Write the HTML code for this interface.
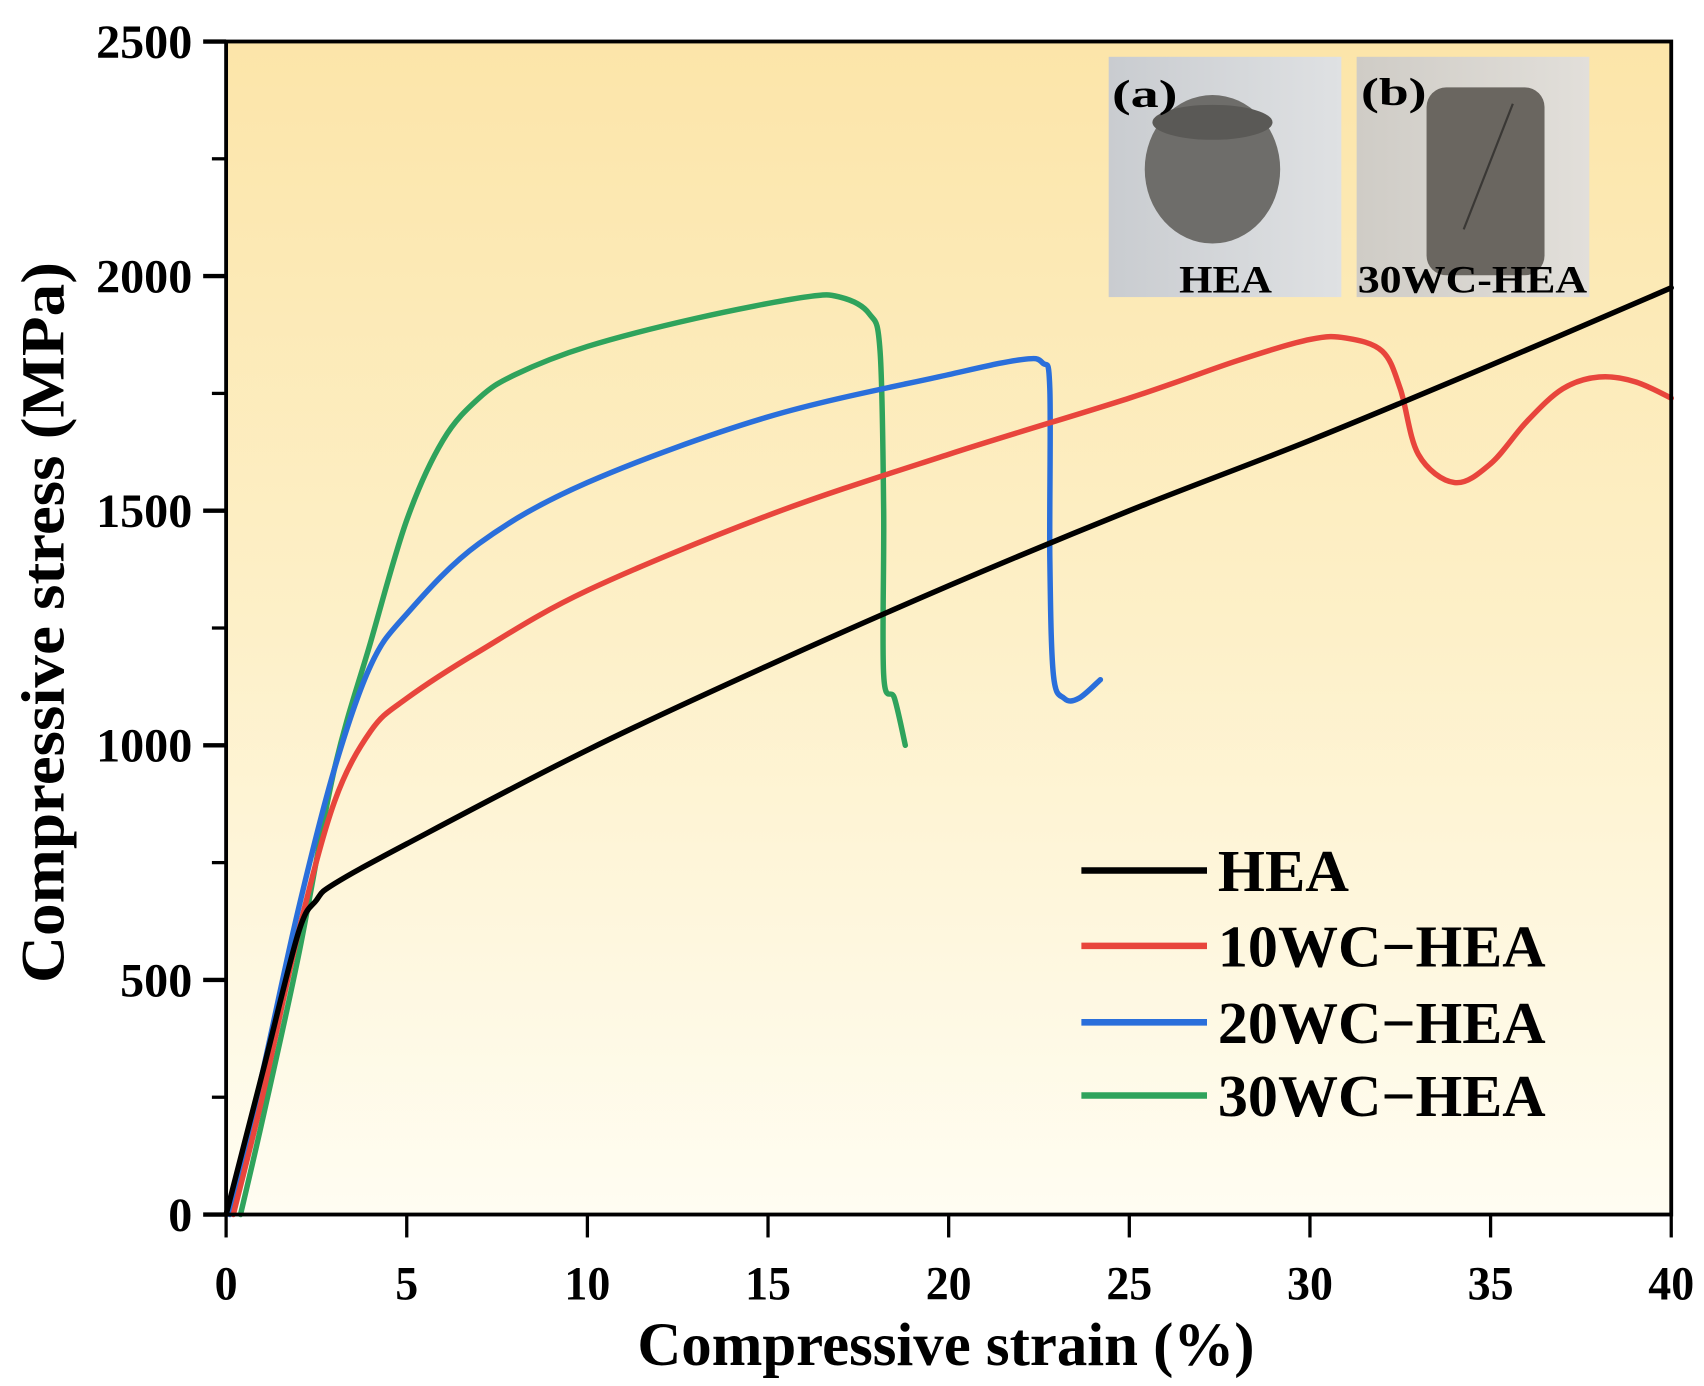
<!DOCTYPE html>
<html><head><meta charset="utf-8">
<style>html,body{margin:0;padding:0;background:#fff}svg{display:block}</style>
</head><body>
<svg id="s" width="1704" height="1386" viewBox="0 0 1560 1269" preserveAspectRatio="none" xmlns="http://www.w3.org/2000/svg" font-family="Liberation Serif, serif" font-weight="bold">
<defs>
<linearGradient id="bg" x1="0" y1="0" x2="0" y2="1">
<stop offset="0" stop-color="#fce5a9"/><stop offset="0.5" stop-color="#fdf0c8"/><stop offset="1" stop-color="#fffdf2"/>
</linearGradient>
<linearGradient id="pa" x1="0" y1="0" x2="1" y2="0"><stop offset="0" stop-color="#c9ccd0"/><stop offset="1" stop-color="#dfe1e3"/></linearGradient>
<linearGradient id="pb" x1="0" y1="0" x2="1" y2="0"><stop offset="0" stop-color="#cfccc6"/><stop offset="1" stop-color="#e2dfda"/></linearGradient>
</defs>
<rect x="207" y="38" width="1323" height="1074" fill="url(#bg)"/>
<g id="ticks" stroke="#000" stroke-width="3"></g>
<g id="curves" fill="none" stroke-width="5" stroke-linejoin="round" stroke-linecap="round"></g>
<!-- insets -->
<rect x="1015" y="52" width="213" height="220" fill="url(#pa)"/>
<ellipse cx="1110" cy="155" rx="62" ry="68" fill="#6e6d6a"/>
<ellipse cx="1110" cy="112" rx="55" ry="16" fill="#5a5956"/>
<text x="1018" y="98" font-size="36" textLength="60" lengthAdjust="spacingAndGlyphs">(a)</text>
<text x="1122" y="268" font-size="36" text-anchor="middle" textLength="85" lengthAdjust="spacingAndGlyphs">HEA</text>
<rect x="1242" y="52" width="213" height="220" fill="url(#pb)"/>
<rect x="1306" y="80" width="108" height="172" rx="18" fill="#6a6660"/>
<path d="M1385 95 L1340 210" stroke="#3a3835" stroke-width="2"/>
<text x="1246" y="96" font-size="36" textLength="60" lengthAdjust="spacingAndGlyphs">(b)</text>
<text x="1348" y="268" font-size="36" text-anchor="middle" textLength="210" lengthAdjust="spacingAndGlyphs">30WC-HEA</text>
<rect x="207" y="38" width="1323" height="1074" fill="none" stroke="#000" stroke-width="3.5"/>
<g font-size="44" text-anchor="end" id="yl"></g>
<g font-size="44" text-anchor="middle" id="xl"></g>
<text x="866" y="1250" font-size="56" text-anchor="middle" textLength="565" lengthAdjust="spacingAndGlyphs">Compressive strain (%)</text>
<text transform="translate(58,570) rotate(-90)" font-size="56" text-anchor="middle" textLength="660" lengthAdjust="spacingAndGlyphs">Compressive stress (MPa)</text>
<g stroke-width="6">
<line x1="990" y1="797" x2="1105" y2="797" stroke="#000"/>
<line x1="990" y1="866" x2="1105" y2="866" stroke="#e8453c"/>
<line x1="990" y1="936" x2="1105" y2="936" stroke="#2a6fdb"/>
<line x1="990" y1="1003" x2="1105" y2="1003" stroke="#2fa35c"/>
</g>
<g font-size="54">
<text x="1115" y="816" textLength="120" lengthAdjust="spacingAndGlyphs">HEA</text>
<text x="1115" y="885" textLength="300" lengthAdjust="spacingAndGlyphs">10WC−HEA</text>
<text x="1115" y="955" textLength="300" lengthAdjust="spacingAndGlyphs">20WC−HEA</text>
<text x="1115" y="1022" textLength="300" lengthAdjust="spacingAndGlyphs">30WC−HEA</text>
</g>
</svg>
<script>
const NS="http://www.w3.org/2000/svg";
const X=s=>207+s*33.075, Y=v=>1112-v*0.4296;
const t=document.getElementById('ticks'),yl=document.getElementById('yl'),xl=document.getElementById('xl');
function ln(g,a,b,c,d,w){const l=document.createElementNS(NS,'line');l.setAttribute('x1',a);l.setAttribute('y1',b);l.setAttribute('x2',c);l.setAttribute('y2',d);if(w)l.setAttribute('stroke-width',w);g.appendChild(l);}
function tx(g,x,y,s,L){const e=document.createElementNS(NS,'text');e.setAttribute('x',x);e.setAttribute('y',y);if(L){e.setAttribute('textLength',L);e.setAttribute('lengthAdjust','spacingAndGlyphs');}e.textContent=s;g.appendChild(e);}
for(let v=0;v<=2500;v+=250){const y=Y(v);if(v%500==0){ln(t,186,y,207,y,4);tx(yl,176,y+15,v,String(v).length*22);}else ln(t,194,y,207,y);}
for(let s=0;s<=40;s+=5){const x=X(s);ln(t,x,1112,x,1133,3);tx(xl,x,1190,s,String(s).length*21);}
const D={
"#000":[[0,0],[1,300],[2,600],[2.5,670],[3,705],[5,790],[10,990],[15,1170],[20,1340],[25,1500],[30,1650],[35,1810],[40,1975]],
"#e8453c":[[0.2,0],[1,250],[2,600],[3,880],[4,1030],[5,1100],[7,1200],[10,1330],[15,1490],[20,1620],[25,1740],[28,1820],[30,1865],[31,1868],[32,1840],[32.5,1760],[33,1620],[34,1560],[35,1600],[36,1690],[37,1760],[38,1785],[39,1775],[40,1740]],
"#2a6fdb":[[0.1,0],[1,300],[2,650],[3,950],[4,1170],[5,1280],[7,1430],[10,1560],[15,1700],[20,1790],[22,1822],[22.6,1815],[22.8,1760],[22.8,1400],[22.9,1150],[23.2,1100],[23.6,1100],[24.2,1140]],
"#2fa35c":[[0.4,0],[1,200],[2,550],[3,950],[4,1220],[5,1480],[6,1650],[7,1740],[8,1790],[10,1850],[13,1910],[16,1955],[17,1955],[17.8,1920],[18.1,1840],[18.2,1500],[18.2,1150],[18.5,1100],[18.8,1000]]};
const c=document.getElementById('curves');
function smooth(P){let d='M'+P[0][0].toFixed(1)+' '+P[0][1].toFixed(1);
for(let i=0;i<P.length-1;i++){const p0=P[i-1]||P[i],p1=P[i],p2=P[i+1],p3=P[i+2]||p2;
const c1=[p1[0]+(p2[0]-p0[0])/6,p1[1]+(p2[1]-p0[1])/6],c2=[p2[0]-(p3[0]-p1[0])/6,p2[1]-(p3[1]-p1[1])/6];
d+=' C'+c1.map(v=>v.toFixed(1)).join(' ')+' '+c2.map(v=>v.toFixed(1)).join(' ')+' '+p2[0].toFixed(1)+' '+p2[1].toFixed(1);}
return d;}
for(const k of ["#2fa35c","#2a6fdb","#e8453c","#000"]){const p=document.createElementNS(NS,'path');
p.setAttribute('d',smooth(D[k].map(q=>[X(q[0]),Y(q[1])])));p.setAttribute('stroke',k);c.appendChild(p);}
</script>
</body></html>
